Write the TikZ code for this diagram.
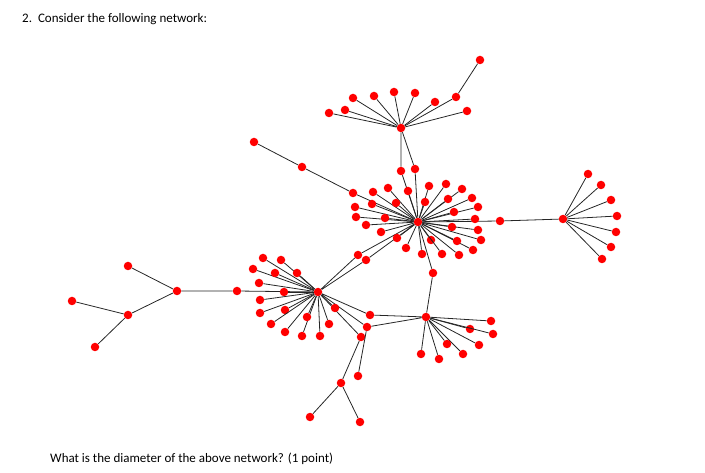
\documentclass[tikz,border=0pt]{standalone}
\usepackage{fontspec}
\setmainfont{Carlito}
\begin{document}
\begin{tikzpicture}[x=1pt,y=-1pt,
  v/.style={circle,fill=red,inner sep=0pt,minimum size=8.5pt},
  e/.style={draw=black!85,line width=0.8pt},
  lbl/.style={anchor=west,font=\fontsize{13}{15}\selectfont,inner sep=0pt}]
\useasboundingbox (0,0) rectangle (705,473);
\node[lbl] (title) at (22,19) {2.\hspace{6pt}Consider the following network:};
\node[lbl] (q) at (50,459) {What is the diameter of the above network? (1 point)};
% hubs
\node[v] (A) at (418,222) {};
\node[v] (B) at (318,292) {};
\node[v] (C) at (426,317) {};
\node[v] (T) at (401,128) {};
\node[v] (R) at (563,219) {};
\node[v] (D) at (177,291) {};
% connectors between hubs
\node[v] (ta) at (401,171) {};
\node[v] (tb) at (415,169) {};
\node[v] (ar) at (500,221) {};
\node[v] (ab1) at (358,255) {};
\node[v] (ab2) at (366,260) {};
\node[v] (ac) at (433,273) {};
\node[v] (bd) at (237,291) {};
\node[v] (bc1) at (370,315) {};
\node[v] (bc2) at (367,327) {};
\node[v] (bx) at (361,337) {};
\node[v] (w1) at (353,193) {};
\node[v] (w2) at (302,167) {};
\node[v] (w3) at (254,142) {};
\draw[e] (T)--(ta)--(A) (T)--(tb)--(A) (A)--(ar)--(R) (A)--(ab1)--(B) (A)--(ab2)--(B)
  (A)--(ac)--(C) (B)--(bd)--(D) (B)--(bc1)--(C) (B)--(bc2)--(C) (B)--(bx)
  (A)--(w1)--(w2)--(w3);
% A leaves
\foreach \p [count=\i] in {(373,192),(388,188),(408,191),(429,186),(446,184),(462,189),(472,198),(478,207),(475,219),(478,230),(481,240),(473,250),(459,255),(457,241),(452,227),(454,212),(448,199),(425,202),(396,203),(372,204),(355,207),(356,217),(366,225),(385,218),(381,232),(397,238),(406,248),(431,240),(442,254),(422,254)}
  {\node[v] (a\i) at \p {}; \draw[e] (A)--(a\i);}
% B leaves
\foreach \p [count=\i] in {(263,258),(281,260),(253,269),(275,273),(297,273),(259,283),(284,292),(260,300),(260,313),(285,310),(271,324),(285,332),(302,336),(307,317),(320,336),(329,324),(335,308)}
  {\node[v] (b\i) at \p {}; \draw[e] (B)--(b\i);}
% C leaves
\foreach \p [count=\i] in {(491,321),(470,329),(493,334),(479,345),(463,354),(447,344),(439,359),(421,354)}
  {\node[v] (c\i) at \p {}; \draw[e] (C)--(c\i);}
% T leaves
\foreach \p [count=\i] in {(329,113),(345,110),(353,98),(374,96),(394,92),(415,93),(435,102),(456,97),(467,111)}
  {\node[v] (t\i) at \p {}; \draw[e] (T)--(t\i);}
\node[v] (t10) at (480,60) {}; \draw[e] (t8)--(t10);
% R leaves
\foreach \p [count=\i] in {(588,174),(601,185),(611,200),(617,216),(616,232),(611,247),(602,259)}
  {\node[v] (r\i) at \p {}; \draw[e] (R)--(r\i);}
% D side
\node[v] (d1) at (128,266) {};
\node[v] (d2) at (128,315) {};
\node[v] (d3) at (72,301) {};
\node[v] (d4) at (95,347) {};
\draw[e] (D)--(d1) (D)--(d2)--(d3) (d2)--(d4);
% bottom
\node[v] (m1) at (358,376) {};
\node[v] (m2) at (341,383) {};
\node[v] (m3) at (310,417) {};
\node[v] (m4) at (360,422) {};
\draw[e] (bc2)--(m1) (bx)--(m2)--(m3) (m2)--(m4);
\end{tikzpicture}
\end{document}
